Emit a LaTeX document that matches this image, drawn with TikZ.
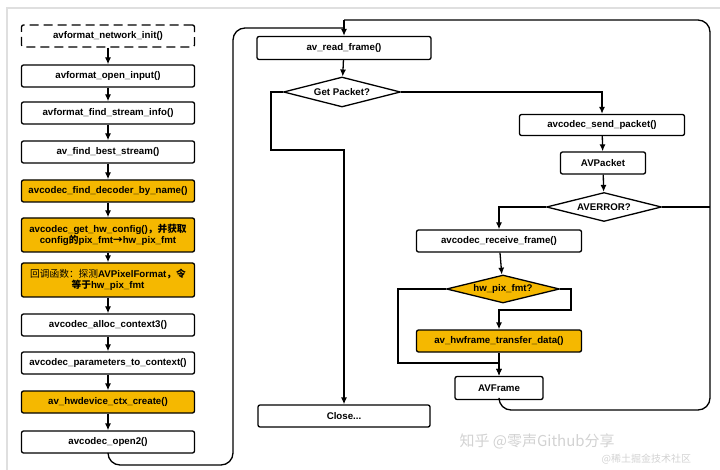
\documentclass[tikz,border=0pt]{standalone}
\usepackage{fontspec}
\setmainfont{Liberation Sans}
\newfontfamily\cjk{Noto Sans CJK SC}
\usetikzlibrary{arrows.meta,positioning,shapes.geometric}
\definecolor{hwyellow}{HTML}{F5B800}
\tikzset{
    func/.style={
    rectangle,rounded corners=2pt,draw=black,line width=1.3pt,fill=white,
    minimum width=173pt,minimum height=22pt,inner sep=1pt,align=center,
    font=\fontsize{9.7}{11.5}\selectfont\bfseries
    },
    hwfunc/.style={func,fill=hwyellow},
    dfunc/.style={func,dashed,dash pattern=on 9pt off 5pt},
    decide/.style={
    diamond,draw=black,line width=1.3pt,fill=white,aspect=4,inner sep=0pt,
    minimum width=115pt,minimum height=29pt,
    font=\fontsize{9.7}{11.5}\selectfont\bfseries
    },
  line/.style={draw, line width=1.3pt, -{Latex[length=7pt,width=6pt]}},
  loopline/.style={draw, line width=1.3pt, rounded corners=12pt},
}

\begin{document}
\begin{tikzpicture}[x=1pt,y=-1pt]
\useasboundingbox (0,0) rectangle (720,470);
\draw[gray!25,line width=1.5pt] (720,8) -- (7,8) -- (7,470);

  % setup, left column
  \node[dfunc] (netinit) at (108,36) {avformat\_network\_init()};
  \node[func] (openin) at (108,76) {avformat\_open\_input()};
  \node[func] (findinfo) at (108,113) {avformat\_find\_stream\_info()};
  \node[func] (beststream) at (108,152) {av\_find\_best\_stream()};
  \node[hwfunc] (finddec) at (108,191) {avcodec\_find\_decoder\_by\_name()};
  \node[hwfunc,minimum height=34pt] (hwconfig) at (108,235) {avcodec\_get\_hw\_config(){\cjk ，并获取}\\config{\cjk 的}pix\_fmt{\cjk →}hw\_pix\_fmt};
  \node[hwfunc,minimum height=34pt] (getfmt) at (108,280) {{\cjk\mdseries 回调函数：探测}AVPixelFormat{\cjk ，令}\\{\cjk 等于}hw\_pix\_fmt};
  \node[func] (alloc) at (108,325) {avcodec\_alloc\_context3()};
  \node[func] (params) at (108,363) {avcodec\_parameters\_to\_context()};
  \node[hwfunc] (hwdev) at (108,402) {av\_hwdevice\_ctx\_create()};
  \node[func] (open2) at (108,442) {avcodec\_open2()};
  \path[line] (netinit) -- (openin);
  \path[line] (openin) -- (findinfo);
  \path[line] (findinfo) -- (beststream);
  \path[line] (beststream) -- (finddec);
  \path[line] (finddec) -- (hwconfig);
  \path[line] (hwconfig) -- (getfmt);
  \path[line] (getfmt) -- (alloc);
  \path[line] (alloc) -- (params);
  \path[line] (params) -- (hwdev);
  \path[line] (hwdev) -- (open2);

  % decode loop
  \node[func,minimum width=174pt,minimum height=23pt] (readframe) at (344,48) {av\_read\_frame()};
  \node[decide,minimum width=117pt,minimum height=30pt] (getpkt) at (342,92) {Get Packet?};
  \node[func,minimum width=172pt] (close) at (344,416) {Close...};
  \node[func,minimum width=165pt,minimum height=21pt] (sendpkt) at (602,125) {avcodec\_send\_packet()};
  \node[func,minimum width=85pt] (avpkt) at (603,163) {AVPacket};
  \node[decide] (averror) at (604,207) {AVERROR?};
  \node[func,minimum width=165pt] (recvframe) at (499,241) {avcodec\_receive\_frame()};
  \node[decide,fill=hwyellow,minimum width=113pt,minimum height=28pt] (hwpix) at (503,289) {hw\_pix\_fmt?};
  \node[hwfunc,minimum width=165pt] (transfer) at (499,341) {av\_hwframe\_transfer\_data()};
  \node[func,minimum width=88pt,minimum height=23pt] (avframe) at (499,388) {AVFrame};

  \coordinate (rtop) at (344,20);
  \coordinate (ljoin) at (344,28);
  \path[line] (rtop) -- (readframe);
  \path[loopline] (open2.south) |- (233,465) -- (233,28) -- (ljoin);
  \path[line] (readframe) -- (getpkt);
  \path[line] (getpkt.west) -- (271,92) |- (344,150) -- (close.north);
  \path[line] (getpkt.east) -| (sendpkt.north);
  \path[line] (sendpkt) -- (avpkt);
  \path[line] (avpkt) -- (averror);
  \path[line] (averror.west) -| (recvframe.north);
  \path[loopline] (averror.east) -- (710,207);
  \path[line] (recvframe) -- (hwpix);
  \path[line] (hwpix.east) -- (571,289) |- (499,310) -- (transfer.north);
  \path[line] (hwpix.west) -- (398,289) |- (499,363) -- (avframe.north);
  \path[line] (transfer) -- (avframe);
  \path[loopline] (avframe.south) |- (710,410) -- (710,20) -- (rtop);

  % watermark
  \node[anchor=west,text=gray!35,font=\cjk\fontsize{15}{15}\selectfont] (wmark) at (456,441) {知乎 @零声Github分享};
  \node[anchor=west,text=gray!35,font=\cjk\fontsize{10}{10}\selectfont] (wmark2) at (598,459) {@稀土掘金技术社区};
\end{tikzpicture}
\end{document}
